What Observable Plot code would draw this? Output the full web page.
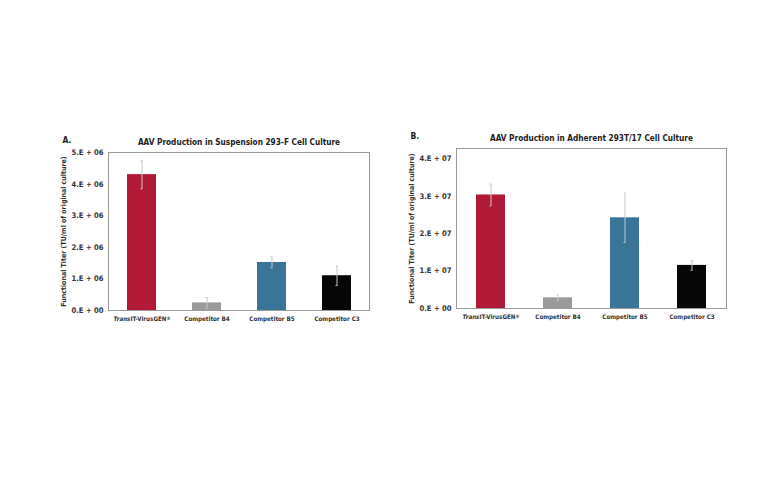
<!DOCTYPE html>
<html>
<head>
<meta charset="utf-8">
<script src="https://cdn.jsdelivr.net/npm/d3@7"></script>
<script src="https://cdn.jsdelivr.net/npm/@observablehq/plot@0.6"></script>
<style>
  html, body { margin: 0; padding: 0; background: #fff; }
  #wrap { position: relative; width: 773px; height: 500px; background: #fff; overflow: hidden; }
  #wrap svg { position: absolute; font-family: "DejaVu Sans Condensed", "Liberation Sans Narrow", "Roboto", sans-serif; font-weight: bold; }
</style>
</head>
<body>
<div id="wrap"></div>
<script>
// ---- data ----
const categories = ["TransIT-VirusGEN®", "Competitor B4", "Competitor B5", "Competitor C3"];
const colors = ["#b11a36", "#9a9a9a", "#3a7597", "#060606"];

const titleA = "AAV Production in Suspension 293-F Cell Culture";
const valuesA = [4.30e6, 0.24e6, 1.52e6, 1.10e6];
const errorsA = [0.45e6, 0.17e6, 0.17e6, 0.31e6];
const ticksA = [0, 1e6, 2e6, 3e6, 4e6, 5e6];

const titleB = "AAV Production in Adherent 293T/17 Cell Culture";
const valuesB = [3.03e7, 0.285e7, 2.42e7, 1.15e7];
const errorsB = [0.29e7, 0.08e7, 0.66e7, 0.13e7];
const ticksB = [0, 1e7, 2e7, 3e7, 4e7];

const yLabel = "Functional Titer (TU/ml of original culture)";

function panel({letter, title, values, errors, ticks, exp, unit, yMax, left, top, width, height, margins}) {
  const rows = categories.map((c, i) => ({cat: c, v: values[i], e: errors[i], color: colors[i]}));
  const fmt = d => d === 0 ? "0.E + 00" : `${Math.round(d / unit)}.E + ${exp}`;
  const plot = Plot.plot({
    width, height,
    marginLeft: margins[0], marginRight: margins[1], marginTop: margins[2], marginBottom: margins[3],
    style: {fontSize: "7px", fontWeight: "bold", color: "#333", background: "transparent"},
    x: {domain: categories, paddingInner: 0.56, paddingOuter: 0.28, label: null, tickSize: 0, tickPadding: 6},
    y: {domain: [0, yMax], ticks, tickFormat: fmt, tickSize: 0, tickPadding: 5,
        label: yLabel, labelAnchor: "center", labelArrow: "none", labelOffset: 47},
    marks: [
      Plot.barY(rows, {x: "cat", y: "v", fill: "color"}),
      Plot.ruleX(rows, {x: "cat", y1: d => d.v - d.e, y2: d => d.v + d.e, stroke: "#c8c8c8", strokeWidth: 1}),
      Plot.tickY(rows, {x: "cat", y: d => d.v + d.e, stroke: "#c8c8c8", strokeWidth: 1, inset: 13.5}),
      Plot.tickY(rows, {x: "cat", y: d => d.v - d.e, stroke: "#c8c8c8", strokeWidth: 1, inset: 13.5}),
      Plot.frame({stroke: "#9a9a9a", strokeWidth: 1}),
      Plot.text([title], {frameAnchor: "top", dy: -13, fontSize: 8.2, fontWeight: "bold", fill: "#222"}),
      Plot.text([letter], {frameAnchor: "top-left", dx: -margins[0] + 22, dy: -16, fontSize: 8.5, fontWeight: "bold", fill: "#222"})
    ]
  });
  plot.style.left = left + "px";
  plot.style.top = top + "px";
  const svg = d3.select(plot);
  svg.selectAll("g[aria-label='x-axis tick label']").attr("font-size", 6.2);
  svg.selectAll("g[aria-label='y-axis tick label']").attr("font-size", 7.6);
  svg.selectAll("g[aria-label='y-axis label']").attr("font-size", 7);
  // italic "Trans" and superscript ® in the first category label
  svg.selectAll("g[aria-label='x-axis tick label'] text").each(function() {
    const t = this.textContent;
    if (t.startsWith("TransIT")) {
      const sel = d3.select(this);
      sel.text(null);
      sel.append("tspan").attr("font-style", "italic").text("Trans");
      sel.append("tspan").text(t.slice(5, t.length - 1));
      sel.append("tspan").attr("font-size", 4.5).attr("dy", "-0.25em").text("®");
    }
  });
  document.getElementById("wrap").appendChild(plot);
}

panel({letter: "A.", title: titleA, values: valuesA, errors: errorsA, ticks: ticksA, exp: "06", unit: 1e6, yMax: 5e6,
  left: 40, top: 120, width: 340, height: 210, margins: [68, 11, 32, 20]});

panel({letter: "B.", title: titleB, values: valuesB, errors: errorsB, ticks: ticksB, exp: "07", unit: 1e7, yMax: 4.27e7,
  left: 388, top: 116, width: 348, height: 212, margins: [68, 10, 32, 20]});
</script>
</body>
</html>
